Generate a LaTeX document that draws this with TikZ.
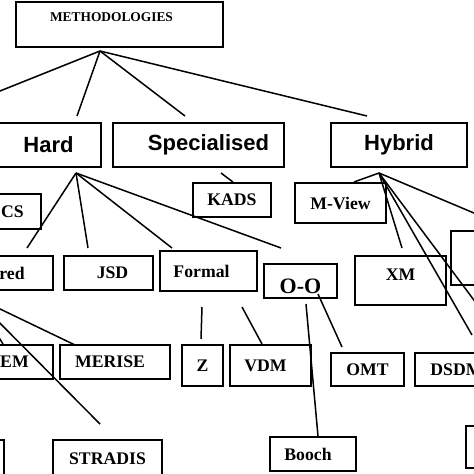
\documentclass[tikz,border=0pt]{standalone}
\usepackage{fontspec}
\setmainfont{Liberation Serif}
\newfontfamily\arialfont{Liberation Sans}
\usetikzlibrary{calc}
\newcommand{\nudge}[2]{\hspace*{#1}#2\hspace*{-#1}}
\tikzstyle{nt} = [rectangle,draw=black,line width=2pt,inner sep=0pt,anchor=north west,font=\fontsize{17.7}{20}\selectfont\bfseries]
\tikzstyle{nh} = [nt,font=\arialfont\fontsize{22}{26}\selectfont\bfseries]
\tikzstyle{ln} = [line width=1.5pt]
\begin{document}
\begin{tikzpicture}[x=1pt,y=-1pt]
  \useasboundingbox (0,0) rectangle (474,474);
  \clip (0,0) rectangle (474,474);
  % boxes
  \node[nt,font=\fontsize{13.4}{16}\selectfont\bfseries,minimum width=207pt,minimum height=45pt,text depth=14pt](meth) at (15,1) {\nudge{-8pt}{METHODOLOGIES}};
  \node[nh,minimum width=105pt,minimum height=44pt](hard) at (-5,122) {Hard};
  \node[nh,minimum width=171pt,minimum height=44pt](spec) at (112,122) {\nudge{10pt}{Specialised}};
  \node[nh,minimum width=136pt,minimum height=44pt](hyb) at (330,122) {Hybrid};
  \node[nt,minimum width=57pt,minimum height=35pt](cs) at (-17,193) {CS};
  \node[nt,minimum width=78pt,minimum height=34pt](kads) at (192,182) {KADS};
  \node[nt,minimum width=91pt,minimum height=40pt](mview) at (294,182) {M-View};
  \node[nt,minimum width=82pt,minimum height=34pt](red) at (-30,255) {red};
  \node[nt,minimum width=89pt,minimum height=34pt](jsd) at (63,255) {\nudge{4pt}{JSD}};
  \node[nt,minimum width=97pt,minimum height=40pt](formal) at (159,250) {\nudge{-7pt}{Formal}};
  \node[nt,font=\fontsize{22}{26}\selectfont\bfseries,minimum width=73pt,minimum height=34pt,text height=25pt,text depth=0pt](oo) at (263,263) {O-O};
  \node[nt,minimum width=91pt,minimum height=49pt,text depth=12pt](xm) at (354,255) {XM};
  \node[nt,minimum width=50pt,minimum height=54pt](rb) at (450,230) {};
  \node[nt,minimum width=77pt,minimum height=34pt](em) at (-25,344) {EM};
  \node[nt,minimum width=110pt,minimum height=34pt](merise) at (59,344) {\nudge{-5pt}{MERISE}};
  \node[nt,minimum width=41pt,minimum height=41pt](z) at (181,344) {Z};
  \node[nt,minimum width=81pt,minimum height=41pt](vdm) at (229,344) {\nudge{-5pt}{VDM}};
  \node[nt,minimum width=73pt,minimum height=33pt](omt) at (330,352) {OMT};
  \node[nt,minimum width=83pt,minimum height=33pt](dsdm) at (414,352) {DSDM};
  \node[nt,minimum width=86pt,minimum height=34pt](booch) at (269,436) {\nudge{-5pt}{Booch}};
  \node[nt,minimum width=109pt,minimum height=37pt](stradis) at (52,439) {STRADIS};
  \node[nt,minimum width=43pt,minimum height=40pt](bl) at (-40,439) {};
  \node[nt,minimum width=40pt,minimum height=42pt](br) at (465,425) {};
  % branch points
  \coordinate (m1) at ($(meth.south west)+(85,3)$);
  \coordinate (h1) at ($(hard.south west)+(81,5)$);
  \coordinate (y1) at ($(hyb.south west)+(49,5)$);
  \coordinate (s1) at ($(red.south west)+(3,5)$);
  \coordinate (soft) at (-60,115);
  \coordinate (hy4) at (500,335);
  \coordinate (hy5) at (500,224);
  % connectors
  \draw[ln] (m1) -- (soft);
  \draw[ln] (m1) -- ($(hard.north west)+(82,-6)$);
  \draw[ln] (m1) -- ($(spec.north west)+(73,-6)$);
  \draw[ln] (m1) -- ($(hyb.north west)+(37,-6)$);
  \draw[ln] (h1) -- ($(red.north west)+(57,-7)$);
  \draw[ln] (h1) -- ($(jsd.north west)+(25,-7)$);
  \draw[ln] (h1) -- ($(formal.north west)+(13,-2)$);
  \draw[ln] (h1) -- ($(oo.north west)+(18,-15)$);
  \draw[ln] ($(spec.south west)+(109,5)$) -- ($(kads.north west)+(41,0)$);
  \draw[ln] (y1) -- ($(mview.north west)+(60,0)$);
  \draw[ln] (y1) -- ($(xm.north west)+(48,-7)$);
  \draw[ln] (y1) -- ($(dsdm.north west)+(58,-17)$);
  \draw[ln] (y1) -- (hy4);
  \draw[ln] (y1) -- (hy5);
  \draw[ln] ($(formal.south west)+(43,15)$) -- ($(z.north west)+(20,-5)$);
  \draw[ln] ($(formal.south west)+(83,15)$) -- ($(vdm.north west)+(33,0)$);
  \draw[ln] ($(oo.south west)+(55,-5)$) -- ($(omt.north west)+(12,-5)$);
  \draw[ln] ($(oo.south west)+(43,5)$) -- ($(booch.north west)+(49,0)$);
  \draw[ln] (s1) -- ($(em.north west)+(28,0)$);
  \draw[ln] (s1) -- ($(merise.north west)+(16,1)$);
  \draw[ln] (s1) -- ($(stradis.north west)+(48,-15)$);
\end{tikzpicture}
\end{document}
